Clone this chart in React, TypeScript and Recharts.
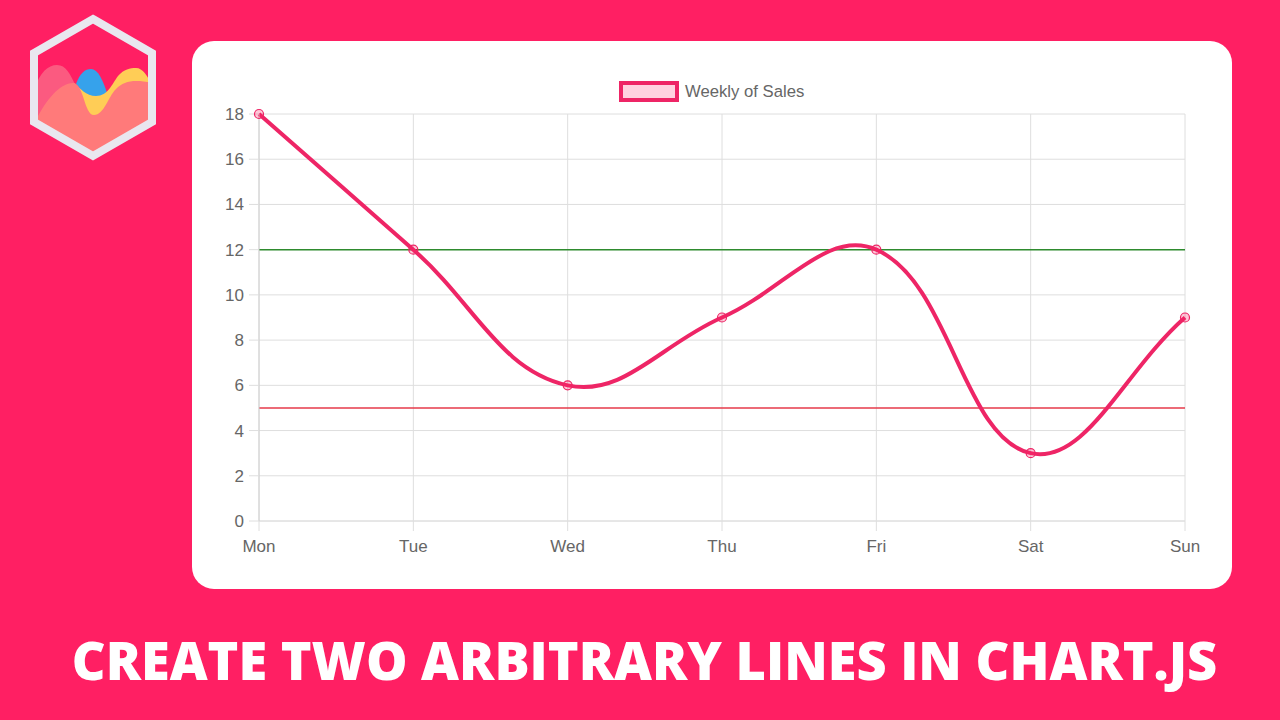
import React from "react";
import { LineChart, Line, XAxis, YAxis, CartesianGrid, ReferenceLine, Legend } from "recharts";

const days = ["Mon", "Tue", "Wed", "Thu", "Fri", "Sat", "Sun"];
const sales = [18, 12, 6, 9, 12, 3, 9];
const yTicks = [0, 2, 4, 6, 8, 10, 12, 14, 16, 18];
const upperLine = 12;
const lowerLine = 5;
const seriesName = "Weekly of Sales";
const title = "CREATE TWO ARBITRARY LINES IN CHART.JS";

const rows = days.map((day, i) => ({ day, sales: sales[i] }));

const PINK = "#ff1f63";
const LINE = "#ee2566";
const GRID = "#dedede";
const TICK = "#666666";
const FONT = "'Liberation Sans', Arial, sans-serif";

// Same spline construction as Chart.js (tension 0.4)
function chartJsCurve(context: any) {
  const pts: [number, number][] = [];
  return {
    areaStart() {},
    areaEnd() {},
    lineStart() {
      pts.length = 0;
    },
    point(x: number, y: number) {
      pts.push([+x, +y]);
    },
    lineEnd() {
      const t = 0.4;
      const cps = pts.map((cur, i) => {
        const prev = pts[i - 1] || cur;
        const next = pts[i + 1] || cur;
        const d01 = Math.hypot(cur[0] - prev[0], cur[1] - prev[1]);
        const d12 = Math.hypot(next[0] - cur[0], next[1] - cur[1]);
        const sum = d01 + d12 || 1;
        const fa = (t * d01) / sum;
        const fb = (t * d12) / sum;
        return {
          px: cur[0] - fa * (next[0] - prev[0]),
          py: cur[1] - fa * (next[1] - prev[1]),
          nx: cur[0] + fb * (next[0] - prev[0]),
          ny: cur[1] + fb * (next[1] - prev[1]),
        };
      });
      pts.forEach((p, i) => {
        if (i === 0) context.moveTo(p[0], p[1]);
        else context.bezierCurveTo(cps[i - 1].nx, cps[i - 1].ny, cps[i].px, cps[i].py, p[0], p[1]);
      });
    },
  };
}

function LegendBox() {
  return (
    <div style={{ position: "absolute", left: 427, top: 40, display: "flex", alignItems: "center", fontFamily: FONT, fontSize: 16.7, color: TICK, whiteSpace: "nowrap" }}>
      <span style={{ display: "inline-block", boxSizing: "border-box", width: 60, height: 21, background: "#ffd2e0", border: `4px solid ${LINE}`, marginRight: 6 }} />
      {seriesName}
    </div>
  );
}

function Logo() {
  const hex = "93,19 152,53 152,122 93,156 34,122 34,53";
  return (
    <svg width={190} height={170} style={{ position: "absolute", left: 0, top: 0 }}>
      <defs>
        <clipPath id="hexClip">
          <polygon points={hex} />
        </clipPath>
      </defs>
      <g clipPath="url(#hexClip)">
        <path d="M30 122 L34 90 C40 72 48 65 57 65 C66 65 70 74 76 86 L76 125 Z" fill="#fb5a80" />
        <path d="M76 84 C80 73 85 69 91 69 C98 69 103 80 108 96 L90 100 Z" fill="#36a2eb" />
        <path d="M74 83 C80 88 86 96 96 96 C108 96 112 84 118 76 C124 69 130 68 136 68 C143 68 147 76 152 84 L150 115 L85 120 Z" fill="#ffcd56" />
        <path d="M36 120 C46 100 60 83 73 83 C84 83 84 115 94 115 C104 115 108 97 116 89 C124 81 134 79 152 83 L152 170 L34 170 Z" fill="#ff7a7a" />
      </g>
      <polygon points={hex} fill="none" stroke="#e9e7ef" strokeWidth={8} strokeLinejoin="miter" />
    </svg>
  );
}

export default function App() {
  return (
    <div style={{ position: "absolute", left: 0, top: 0, width: 1280, height: 720, background: PINK, overflow: "hidden" }}>
      <Logo />
      <div style={{ position: "absolute", left: 192, top: 41, width: 1040, height: 548, background: "#fff", borderRadius: 22 }}>
        <LineChart width={1040} height={548} data={rows} margin={{ top: 73, right: 47, bottom: 0, left: 0 }}>
          <CartesianGrid stroke={GRID} strokeWidth={1} vertical horizontal syncWithTicks />
          <XAxis
            dataKey="day"
            height={68}
            tickSize={10}
            tickMargin={9}
            interval={0}
            axisLine={{ stroke: GRID }}
            tickLine={{ stroke: GRID }}
            tick={{ fill: TICK, fontSize: 17, fontFamily: FONT }}
          />
          <YAxis
            width={67}
            domain={[0, 18]}
            ticks={yTicks}
            interval={0}
            tickSize={10}
            tickMargin={5}
            axisLine={{ stroke: "#d0d0d0" }}
            tickLine={{ stroke: GRID }}
            tick={{ fill: TICK, fontSize: 17, fontFamily: FONT }}
          />
          <ReferenceLine y={upperLine} stroke="#2e8b2e" strokeWidth={1.5} />
          <ReferenceLine y={lowerLine} stroke="#e63a4a" strokeWidth={1.5} />
          <Legend content={() => <LegendBox />} wrapperStyle={{ left: 0, top: 0, width: 0, height: 0 }} />
          <Line
            dataKey="sales"
            name={seriesName}
            type={chartJsCurve as any}
            stroke={LINE}
            strokeWidth={4}
            dot={{ r: 4.5, fill: "rgba(255,32,99,0.25)", stroke: LINE, strokeWidth: 1.2 }}
            isAnimationActive={false}
          />
        </LineChart>
      </div>
      <div style={{ position: "absolute", left: 0, top: 624, width: 1289, textAlign: "center", fontFamily: "'Open Sans', sans-serif", fontWeight: 800, fontSize: 52.25, lineHeight: "72px", color: "#fff", whiteSpace: "nowrap" }}>
        {title}
      </div>
    </div>
  );
}
